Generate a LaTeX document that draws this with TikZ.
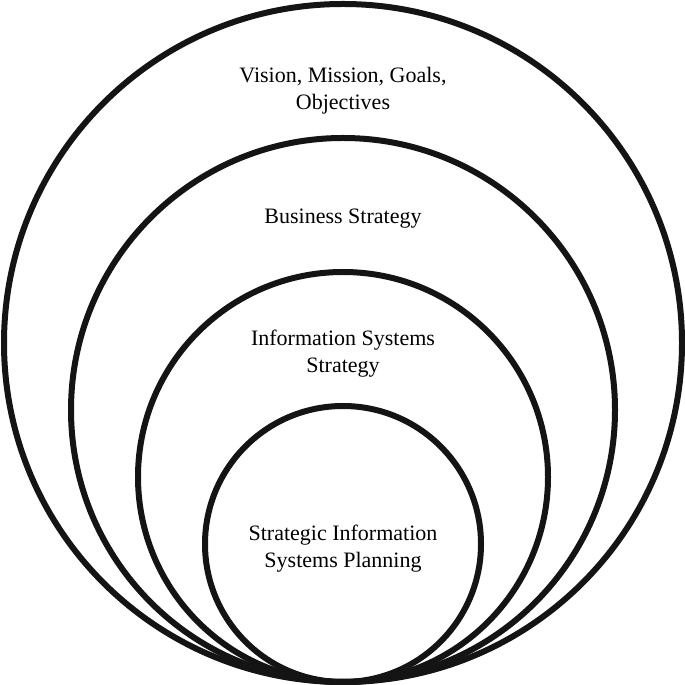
\documentclass[tikz,border=0pt]{standalone}
\usepackage{fontspec}
\setmainfont{Liberation Serif}
\begin{document}
\begin{tikzpicture}[x=1pt,y=1pt,
  ring/.style={line width=6pt,draw=black!92},
  label/.style={align=center,font=\fontsize{22}{27}\selectfont,inner sep=0pt}]
\useasboundingbox (0,0) rectangle (685,685);
\def\xC{343};
\def\yB{3};
\coordinate (B) at (\xC,\yB);
% nested circles, all touching at the bottom
\foreach \r in {339,272,205,138}
  \draw[ring] (\xC,\yB+\r) circle (\r);
\node[label] (vision) at (\xC,594) {Vision, Mission, Goals,\\Objectives};
\node[label] (business) at (\xC,466) {Business Strategy};
\node[label] (iss) at (\xC,331) {Information Systems\\Strategy};
\node[label] (sisp) at (\xC,136) {Strategic Information\\Systems Planning};
\end{tikzpicture}
\end{document}
